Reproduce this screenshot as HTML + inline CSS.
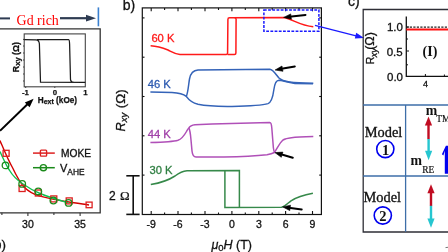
<!DOCTYPE html>
<html><head><meta charset="utf-8">
<style>
html,body{margin:0;padding:0;background:#fff;width:448px;height:252px;overflow:hidden}
svg{display:block}
.s{font-family:"Liberation Sans",Arial,sans-serif}
.t{font-family:"Liberation Serif","Times New Roman",serif}
</style></head><body>
<svg width="448" height="252" viewBox="0 0 448 252">
<rect width="448" height="252" fill="#fff"/>

<!-- ===== Panel a ===== -->
<g id="pa">
  <!-- Gd rich arrow -->
  <line x1="0" y1="18.4" x2="10" y2="18.4" stroke="#2e3b52" stroke-width="2"/>
  <text class="t" x="16.6" y="24.6" font-size="14.6" fill="#ff0000" textLength="42.2" lengthAdjust="spacingAndGlyphs">Gd rich</text>
  <line x1="60" y1="18.2" x2="88" y2="18.2" stroke="#2e3b52" stroke-width="2.2"/>
  <polygon points="86,14.8 96,18.2 86,21.6" fill="#2e3b52"/>
  <line x1="98.4" y1="7.4" x2="98.4" y2="26.3" stroke="#3a80d0" stroke-width="1.6"/>
  <!-- frame -->
  <polyline points="0,28.9 100.2,28.9 100.2,212.8 0,212.8" fill="none" stroke="#333" stroke-width="1.3"/>
  <g stroke="#333" stroke-width="1.1">
    <line x1="1.9" y1="212.8" x2="1.9" y2="215"/>
    <line x1="27.9" y1="212.8" x2="27.9" y2="216"/>
    <line x1="53.9" y1="212.8" x2="53.9" y2="215"/>
    <line x1="80.1" y1="212.8" x2="80.1" y2="216"/>
  </g>
  <text class="s" x="27.9" y="228.2" font-size="10.5" text-anchor="middle" fill="#111" stroke="#111" stroke-width="0.3">30</text>
  <text class="s" x="80.1" y="228.2" font-size="10.5" text-anchor="middle" fill="#111" stroke="#111" stroke-width="0.3">35</text>
  <text class="s" x="-6" y="249.2" font-size="13.5" fill="#111" stroke="#111" stroke-width="0.3">b)</text>

  <!-- inset -->
  <rect x="24.2" y="33.9" width="61.1" height="52.9" fill="none" stroke="#444" stroke-width="1.1"/>
  <g stroke="#333" stroke-width="0.9">
    <line x1="24.2" y1="39.4" x2="23" y2="39.4"/>
    <line x1="24.2" y1="46" x2="23" y2="46"/>
    <line x1="24.2" y1="53" x2="23" y2="53"/>
    <line x1="24.2" y1="60" x2="23" y2="60"/>
    <line x1="24.2" y1="67" x2="23" y2="67"/>
    <line x1="24.2" y1="74" x2="23" y2="74"/>
    <line x1="24.2" y1="81" x2="23" y2="81"/>
    <line x1="25.7" y1="86.7" x2="25.7" y2="88"/>
    <line x1="54.8" y1="86.7" x2="54.8" y2="88"/>
  </g>
  <path d="M24.2,39.7 L36,39.9 C38.5,40 39.2,41 39.4,44 L40.5,82.2 L85.3,82.4 M37,39.6 L68.6,39.6 C69.3,39.7 69.5,41 69.6,44 L70.5,79.5 C70.7,81.8 71.8,82.3 74,82.4" fill="none" stroke="#1a1a1a" stroke-width="1.25"/>
  <text class="s" font-weight="bold" font-size="8.8" fill="#111" transform="translate(18.7,72.2) rotate(-90)" stroke="#111" stroke-width="0.25">R<tspan font-size="7.6" dy="0.8">xy</tspan><tspan dy="-0.8"> (Ω)</tspan></text>
  <text class="s" font-weight="bold" font-size="7.8" fill="#111" x="25.4" y="94.6" text-anchor="middle" stroke="#111" stroke-width="0.25">-1</text>
  <text class="s" font-weight="bold" font-size="7.8" fill="#111" x="54.8" y="94.6" text-anchor="middle" stroke="#111" stroke-width="0.25">0</text>
  <text class="s" font-weight="bold" font-size="7.8" fill="#111" x="85.3" y="94.6" text-anchor="middle" stroke="#111" stroke-width="0.25">1</text>
  <text class="s" font-weight="bold" font-size="8.2" fill="#111" x="37.8" y="103.2" stroke="#111" stroke-width="0.25">H<tspan font-size="7" dy="1">ext</tspan><tspan dy="-1"> (kOe)</tspan></text>

  <!-- black arrow -->
  <line x1="0" y1="130.8" x2="29" y2="102.8" stroke="#000" stroke-width="2"/>
  <polygon points="33.6,98.8 24.8,102.5 29.6,107.3" fill="#000"/>

  <!-- data curves -->
  <path d="M0,140.6 C4,150 8,160 12.7,168 C16,175 19,181 24,187 C29,192 34,194.5 40,196.2 C50,199 62,201 72,202.5 C80,203.6 85,204.3 89,205" fill="none" stroke="#d40000" stroke-width="1.4"/>
  <path d="M0,151.6 C3,158 6,165 9.3,170 C12.5,175.5 17,180 23,184 C28,187.5 34,191 40,193.5 C50,197.5 60,200.5 68.6,202.9" fill="none" stroke="#10c050" stroke-width="1.4"/>
  <g fill="none" stroke="#dd2020" stroke-width="1.3">
    <rect x="3.1" y="150.3" width="6" height="6"/>
    <rect x="19.1" y="185.5" width="6" height="6"/>
    <rect x="35.3" y="190" width="6" height="6"/>
    <rect x="50.8" y="195.9" width="6" height="6"/>
    <rect x="66.2" y="197.9" width="6" height="6"/>
    <rect x="86.1" y="202.1" width="6" height="5.6"/>
  </g>
  <g fill="none" stroke="#1a8a1a" stroke-width="1.3">
    <circle cx="5.5" cy="165.4" r="3.3"/>
    <circle cx="22.2" cy="183.9" r="3.3"/>
    <circle cx="38.3" cy="191.4" r="3.3"/>
    <circle cx="53.4" cy="200.5" r="3.3"/>
    <circle cx="68.6" cy="202.9" r="3.3"/>
  </g>
  <!-- legend -->
  <line x1="33" y1="153.1" x2="54.8" y2="153.1" stroke="#dd2020" stroke-width="1.5"/>
  <rect x="40.4" y="150.1" width="6.2" height="6" rx="0.8" fill="none" stroke="#dd2020" stroke-width="1.4"/>
  <line x1="33" y1="167.7" x2="54.8" y2="167.7" stroke="#1a8a1a" stroke-width="1.5"/>
  <circle cx="43.4" cy="167.7" r="3.1" fill="none" stroke="#1a8a1a" stroke-width="1.4"/>
  <text class="s" x="61" y="157.1" font-size="10.2" fill="#111" stroke="#111" stroke-width="0.3">MOKE</text>
  <text class="s" x="60" y="171.8" font-size="11" fill="#111" stroke="#111" stroke-width="0.3">V<tspan font-size="8.4" dy="3.5">AHE</tspan></text>
</g>

<!-- ===== Panel b ===== -->
<g id="pb">
  <text class="s" x="122.8" y="10.2" font-size="14" fill="#111" stroke="#111" stroke-width="0.3">b)</text>
  <rect x="142.3" y="7.9" width="179.1" height="206.6" fill="none" stroke="#111" stroke-width="1.2"/>
  <g stroke="#111" stroke-width="1.1">
    <!-- bottom ticks -->
    <line x1="151.2" y1="214.5" x2="151.2" y2="211"/>
    <line x1="164.6" y1="214.5" x2="164.6" y2="212.5"/>
    <line x1="178.0" y1="214.5" x2="178.0" y2="211"/>
    <line x1="191.4" y1="214.5" x2="191.4" y2="212.5"/>
    <line x1="205.0" y1="214.5" x2="205.0" y2="211"/>
    <line x1="218.5" y1="214.5" x2="218.5" y2="212.5"/>
    <line x1="231.9" y1="214.5" x2="231.9" y2="211"/>
    <line x1="245.3" y1="214.5" x2="245.3" y2="212.5"/>
    <line x1="258.8" y1="214.5" x2="258.8" y2="211"/>
    <line x1="272.2" y1="214.5" x2="272.2" y2="212.5"/>
    <line x1="285.6" y1="214.5" x2="285.6" y2="211"/>
    <line x1="299.0" y1="214.5" x2="299.0" y2="212.5"/>
    <line x1="312.5" y1="214.5" x2="312.5" y2="211"/>
    <!-- top ticks -->
    <line x1="151.2" y1="7.9" x2="151.2" y2="11.3"/>
    <line x1="164.6" y1="7.9" x2="164.6" y2="10"/>
    <line x1="178.0" y1="7.9" x2="178.0" y2="11.3"/>
    <line x1="191.4" y1="7.9" x2="191.4" y2="10"/>
    <line x1="205.0" y1="7.9" x2="205.0" y2="11.3"/>
    <line x1="218.5" y1="7.9" x2="218.5" y2="10"/>
    <line x1="231.9" y1="7.9" x2="231.9" y2="11.3"/>
    <line x1="245.3" y1="7.9" x2="245.3" y2="10"/>
    <line x1="258.8" y1="7.9" x2="258.8" y2="11.3"/>
    <line x1="272.2" y1="7.9" x2="272.2" y2="10"/>
    <line x1="285.6" y1="7.9" x2="285.6" y2="11.3"/>
    <line x1="299.0" y1="7.9" x2="299.0" y2="10"/>
    <line x1="312.5" y1="7.9" x2="312.5" y2="11.3"/>
    <!-- left ticks -->
    <line x1="142.3" y1="17.9" x2="144.5" y2="17.9"/>
    <line x1="142.3" y1="57.2" x2="144.5" y2="57.2"/>
    <line x1="142.3" y1="96.5" x2="144.5" y2="96.5"/>
    <line x1="142.3" y1="135.8" x2="144.5" y2="135.8"/>
    <line x1="142.3" y1="175.1" x2="144.5" y2="175.1"/>
    <!-- right ticks -->
    <line x1="321.4" y1="17.9" x2="319.2" y2="17.9"/>
    <line x1="321.4" y1="57.2" x2="319.2" y2="57.2"/>
    <line x1="321.4" y1="96.5" x2="319.2" y2="96.5"/>
    <line x1="321.4" y1="135.8" x2="319.2" y2="135.8"/>
    <line x1="321.4" y1="175.1" x2="319.2" y2="175.1"/>
  </g>
  <g class="s" font-size="10.5" fill="#111" text-anchor="middle" stroke="#111" stroke-width="0.3">
    <text x="151.2" y="227.6">-9</text>
    <text x="178.0" y="227.6">-6</text>
    <text x="205.0" y="227.6">-3</text>
    <text x="231.9" y="227.6">0</text>
    <text x="258.8" y="227.6">3</text>
    <text x="285.6" y="227.6">6</text>
    <text x="312.5" y="227.6">9</text>
  </g>
  <text class="s" x="211.4" y="249.4" font-size="12.5" fill="#111" stroke="#111" stroke-width="0.3"><tspan font-style="italic">μ</tspan><tspan font-size="9.5" dy="2">0</tspan><tspan font-style="italic" dy="-2">H</tspan> (T)</text>
  <text class="s" font-size="12.8" fill="#111" transform="translate(124.8,131.6) rotate(-90)" stroke="#111" stroke-width="0.3"><tspan font-style="italic">R</tspan><tspan font-style="italic" font-size="9.5" dy="2.2">xy</tspan><tspan dy="-2.2" dx="0.8" font-size="13.4"> (Ω)</tspan></text>
  <!-- scale bar -->
  <g stroke="#111" stroke-width="1.6">
    <line x1="133.2" y1="175.8" x2="133.2" y2="214.4"/>
    <line x1="126.3" y1="175.8" x2="139.6" y2="175.8"/>
    <line x1="126.3" y1="214.4" x2="139.6" y2="214.4"/>
  </g>
  <text class="s" x="108.9" y="199.7" font-size="12" fill="#111" stroke="#111" stroke-width="0.3">2</text><text class="t" x="120" y="199.8" font-size="13" fill="#111" stroke="#111" stroke-width="0.2">Ω</text>

  <!-- labels -->
  <text class="s" x="151.4" y="41.9" font-size="11.2" fill="#ff1a1a" stroke="#ff1a1a" stroke-width="0.3">60 K</text>
  <text class="s" x="147.8" y="87.7" font-size="11.2" fill="#2d5ab0" stroke="#2d5ab0" stroke-width="0.3">46 K</text>
  <text class="s" x="147.8" y="137.7" font-size="11.2" fill="#a040a8" stroke="#a040a8" stroke-width="0.3">44 K</text>
  <text class="s" x="149.5" y="174.2" font-size="11.2" fill="#2f7f42" stroke="#2f7f42" stroke-width="0.3">30 K</text>

  <!-- 60K red -->
  <g fill="none" stroke="#ff1a1a" stroke-width="1.5">
    <path d="M150.6,45.8 C158,46.2 163,48 168,50 C172,52 175,54.1 180,54.4 L226.2,54.5 Q227.6,54.5 227.6,53 L227.9,19.4 Q227.9,17.8 229.5,17.8 L284,17.6 C292,19 300,25.5 313.3,26.8"/>
    <path d="M234.6,17.7 Q236.1,17.7 236.1,19.3 L235.9,53 Q235.9,54.5 234.4,54.5 L227.6,54.5"/>
  </g>
  <!-- 46K blue -->
  <g fill="none" stroke="#3463b8" stroke-width="1.5">
    <path d="M150.4,92.1 L172,92.4 C180,92.8 183.5,94 186.3,96.4 C188,93 188.6,84 189.5,79 C190.5,73.5 192.5,70.3 198,70 L269.8,69.2 C273,69.5 275,73 278.7,77.8 C283,82 292,83 313.3,83.2"/>
    <path d="M186.3,96.4 C189,100.2 192,102.8 198,104.3 C206,106 216,106.6 232,106.4 C250,106 262,105.4 268,103.6 C271.6,102.2 272.9,97 273.8,90 C274.6,83.5 276,80.2 279,80.2 C283,80.6 287,82.6 295,83.4 L313,83.8"/>
  </g>
  <!-- 44K purple -->
  <g fill="none" stroke="#b050b8" stroke-width="1.5">
    <path d="M150.4,142.6 C165,142.2 174,141.5 178,140.3 C182,139 184.5,135 186.5,131.5 C187.5,129.8 188.2,128.5 188.8,128 C190,126 191.5,125.2 195,124.8 L212,124.0 L269.8,122.6 C271.2,122.6 271.5,124 271.8,128 L273.4,148 C273.8,151 274.2,152 274.6,152.4"/>
    <path d="M188.8,128 C189.8,129.5 190.5,134 191,140 L192,151 C192.5,155.5 193.5,157 196,157.1 L224,157 C240,156.6 258,155.6 267,154.7 C270.5,154.2 273,153.3 274.4,152.5 C277,149 279.5,143 283,140 C286.5,137.8 292,137.2 313.3,136.6"/>
  </g>
  <!-- 30K green -->
  <g fill="none" stroke="#36894a" stroke-width="1.5">
    <path d="M150.8,184.6 C160,183 168,180.5 175,176 C179.5,172.5 182,171 187,170.7 L239.4,170.4 L239.4,207.6"/>
    <path d="M224.9,170.4 L224.9,207.4 L281.5,207.2 C285,206.6 287.5,203.5 291,200.8 C296,197.5 303,195 312.9,193.2"/>
  </g>
  <!-- black arrows -->
  <g stroke="#000" stroke-width="2" stroke-linecap="round">
    <line x1="305.5" y1="14.9" x2="291.5" y2="16.5"/>
    <line x1="294.8" y1="66.4" x2="283.0" y2="68.6"/>
    <line x1="292.8" y1="157.8" x2="282.6" y2="154.8"/>
    <line x1="301.7" y1="209.4" x2="290.6" y2="207.9"/>
  </g>
  <g fill="#000" stroke="#000" stroke-width="0.6" stroke-linejoin="round">
    <polygon points="283.6,17.4 291.4,19.2 290.7,13.9"/>
    <polygon points="275.1,70.0 283.0,71.3 282.0,66.0"/>
    <polygon points="274.9,152.6 281.3,157.3 282.9,152.1"/>
    <polygon points="282.7,206.9 289.8,210.6 290.5,205.2"/>
  </g>
  <!-- dashed rect -->
  <rect x="263.9" y="10.1" width="55" height="21.1" fill="none" stroke="#1a1aff" stroke-width="1.5" stroke-dasharray="2.8,1.4"/>
  <!-- blue connector -->
  <line x1="315" y1="25.4" x2="358" y2="36.4" stroke="#1a1aff" stroke-width="1.3"/>
  <polygon points="364.2,38 356.2,32.7 354.8,38.5" fill="#1a1aff"/>
</g>

<!-- ===== Panel c ===== -->
<g id="pc">
  <text class="s" x="348" y="5.7" font-size="14" fill="#111" stroke="#111" stroke-width="0.3">c)</text>
  <polyline points="448,9.5 363.2,9.5 363.2,232 448,232" fill="none" stroke="#2e2e36" stroke-width="1.3"/>
  <line x1="363.2" y1="105" x2="448" y2="105" stroke="#3d6ea8" stroke-width="1.5"/>
  <line x1="363.2" y1="176.1" x2="448" y2="176.1" stroke="#3d6ea8" stroke-width="1.5"/>
  <line x1="405.6" y1="105" x2="405.6" y2="231.7" stroke="#3d6ea8" stroke-width="1.3"/>
  <!-- inner plot -->
  <polyline points="406.3,16.5 406.3,76.3 448,76.3" fill="none" stroke="#111" stroke-width="1.3"/>
  <g stroke="#111" stroke-width="1">
    <line x1="406.3" y1="27" x2="409" y2="27"/>
    <line x1="406.3" y1="39" x2="408" y2="39"/>
    <line x1="406.3" y1="51" x2="409" y2="51"/>
    <line x1="406.3" y1="64.8" x2="408" y2="64.8"/>
    <line x1="425.4" y1="76.3" x2="425.4" y2="74"/>
    <line x1="444.4" y1="76.3" x2="444.4" y2="74.5"/>
  </g>
  <line x1="406.3" y1="27.1" x2="448" y2="27.1" stroke="#222" stroke-width="1.3" stroke-dasharray="2.2,1.3"/>
  <line x1="406.3" y1="29.5" x2="448" y2="29.5" stroke="#ff1010" stroke-width="2"/>
  <g class="s" font-size="11.5" fill="#111" text-anchor="end" stroke="#111" stroke-width="0.3">
    <text x="402.9" y="30.9">1.0</text>
    <text x="402.7" y="55.7">0.5</text>
    <text x="403" y="80.9">0.0</text>
  </g>
  <text class="s" x="425.4" y="87" font-size="9" text-anchor="middle" fill="#111" stroke="#111" stroke-width="0.3">4</text>
  <text class="s" font-size="10.5" fill="#111" transform="translate(374,64.2) rotate(-90)" stroke="#111" stroke-width="0.3">R<tspan font-style="italic" font-size="9" dy="3.3" dx="-0.6">xy</tspan><tspan font-size="12.5" dy="-3.3" dx="-1.6">(Ω)</tspan></text>
  <text class="t" x="422.6" y="55.6" font-size="14" font-weight="bold" fill="#111">(I)</text>

  <!-- table -->
  <text class="t" x="364.8" y="137" font-size="14.4" fill="#111" stroke="#111" stroke-width="0.3">Model</text>
  <circle cx="385.3" cy="149.05" r="8.6" fill="none" stroke="#0000ee" stroke-width="1.6"/>
  <text class="t" x="385.6" y="154.6" font-size="14.5" font-weight="bold" text-anchor="middle" fill="#111">1</text>
  <text class="t" x="363.5" y="201.6" font-size="14.4" fill="#111" stroke="#111" stroke-width="0.3">Model</text>
  <circle cx="382.8" cy="215.5" r="8.6" fill="none" stroke="#0000ee" stroke-width="1.6"/>
  <text class="t" x="382.9" y="220.9" font-size="14.5" font-weight="bold" text-anchor="middle" fill="#111">2</text>

  <text class="t" x="425.7" y="115.4" font-size="13.8" font-weight="bold" fill="#111">m</text>
  <text class="t" x="436.3" y="121.8" font-size="9.4" fill="#111" stroke="#111" stroke-width="0.2">TM</text>
  <text class="t" x="410.6" y="165" font-size="13.8" font-weight="bold" fill="#111">m</text>
  <text class="t" x="422.2" y="172.8" font-size="9.4" fill="#111" stroke="#111" stroke-width="0.2">RE</text>

  <!-- model1 arrows -->
  <line x1="428.5" y1="124.5" x2="428.5" y2="139.2" stroke="#c00c22" stroke-width="2.4"/>
  <polygon points="428.5,116.5 424.9,125.6 432.1,125.6" fill="#c00c22"/>
  <line x1="428.6" y1="139" x2="428.6" y2="151.5" stroke="#26c6d0" stroke-width="2.4"/>
  <polygon points="428.6,160.2 425,150.8 432.2,150.8" fill="#26c6d0"/>
  <!-- big blue arrow -->
  <polygon points="445.9,145.7 449,145.7 449,173.8 444.8,173.8 444.8,150.8 443.4,155.4 441.9,154.3" fill="#0000ee"/>
  <!-- model2 arrows -->
  <line x1="431" y1="192" x2="431" y2="206" stroke="#c00c22" stroke-width="2.4"/>
  <polygon points="431,184.2 427.4,193.2 434.6,193.2" fill="#c00c22"/>
  <line x1="431" y1="205.8" x2="431" y2="219.5" stroke="#26c6d0" stroke-width="2.4"/>
  <polygon points="431,227.7 427.4,218.6 434.6,218.6" fill="#26c6d0"/>
  <line x1="445.5" y1="247.6" x2="448" y2="247.3" stroke="#777" stroke-width="1"/>
</g>
</svg>
</body></html>
